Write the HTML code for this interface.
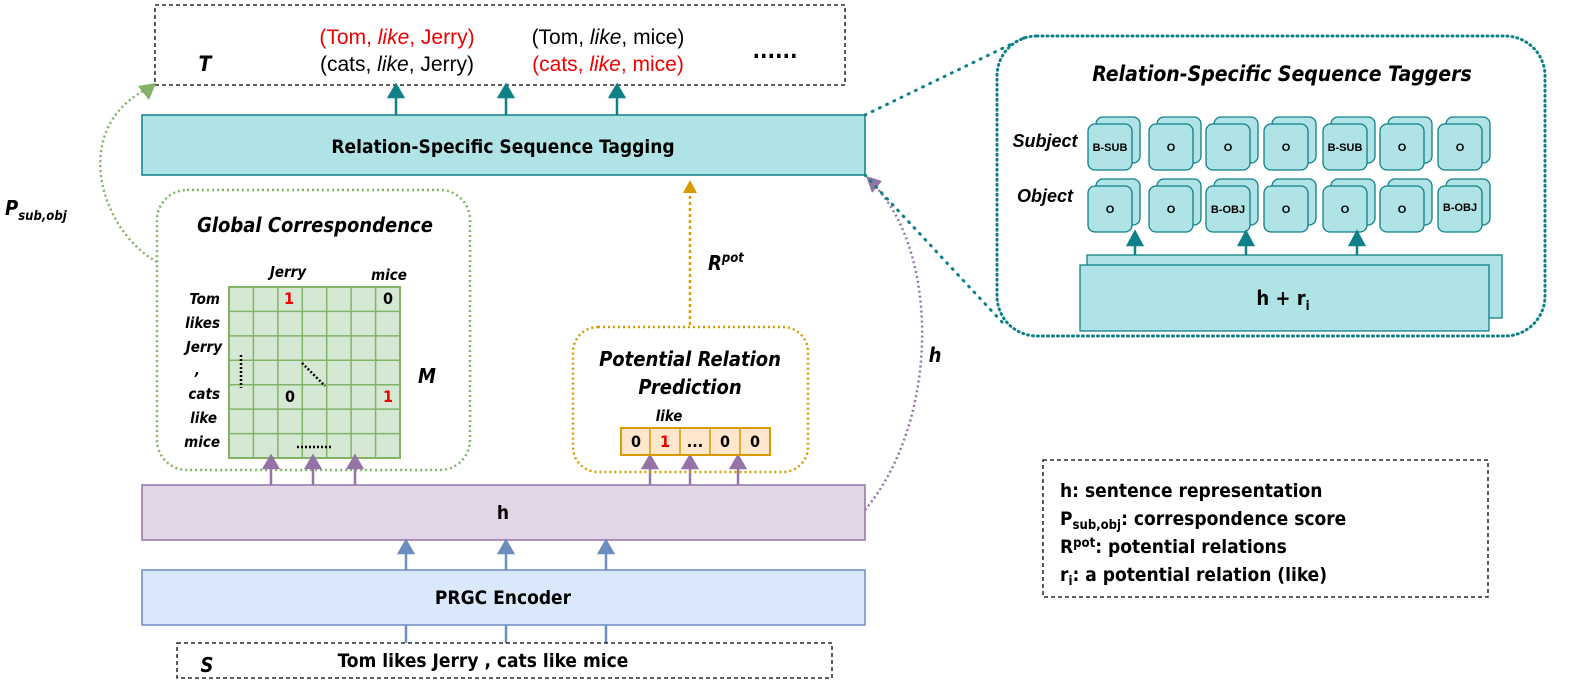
<!DOCTYPE html>
<html><head><meta charset="utf-8"><style>
body{margin:0;background:#fff}
svg text{font-family:"DejaVu Sans Condensed","DejaVu Sans",sans-serif}
.b{font-weight:bold}
.i{font-style:italic;font-weight:bold}
.l{font-family:"Liberation Sans",sans-serif!important}
</style></head><body>
<svg width="1578" height="686" viewBox="0 0 1578 686" xmlns="http://www.w3.org/2000/svg">
<!-- T box -->
<rect x="155" y="5" width="690" height="80" fill="none" stroke="#000" stroke-width="1.3" stroke-dasharray="4,3"/>
<text x="205" y="71" class="i" font-size="21" text-anchor="middle">T</text>
<g font-size="21" text-anchor="middle">
<text x="397" y="44" fill="#e00" class="l">(Tom, <tspan font-style="italic">like</tspan>, Jerry)</text>
<text x="397" y="71" class="l">(cats, <tspan font-style="italic">like</tspan>, Jerry)</text>
<text x="608" y="44" class="l">(Tom, <tspan font-style="italic">like</tspan>, mice)</text>
<text x="608" y="71" fill="#e00" class="l">(cats, <tspan font-style="italic">like</tspan>, mice)</text>
</g>
<text x="775" y="58" font-size="22" text-anchor="middle" class="b">......</text>
<!-- teal arrows -->
<g stroke="#0e8088" stroke-width="2.5" fill="#0e8088">
<line x1="396" y1="115" x2="396" y2="95"/><path d="M389,97L396,85L403,97z"/>
<line x1="506" y1="115" x2="506" y2="95"/><path d="M499,97L506,85L513,97z"/>
<line x1="617" y1="115" x2="617" y2="95"/><path d="M610,97L617,85L624,97z"/>
</g>
<!-- RSST -->
<rect x="142" y="115" width="723" height="60" fill="#b0e3e6" stroke="#0e8088" stroke-width="1.5"/>
<text x="503" y="153" font-size="19" class="b" text-anchor="middle">Relation-Specific Sequence Tagging</text>
<!-- green arc -->
<path d="M157,262 C100,230 70,130 145,90" fill="none" stroke="#82b366" stroke-width="2.5" stroke-dasharray="2,3"/>
<path d="M138,86L156,83L149,100z" fill="#82b366"/>
<text x="5" y="215" class="i" font-size="20">P<tspan font-size="13" dy="5">sub,obj</tspan></text>
<!-- Global correspondence -->
<rect x="157" y="190" width="313" height="280" rx="30" fill="none" stroke="#82b366" stroke-width="2.5" stroke-dasharray="2,3"/>
<text x="315" y="232" class="i" font-size="20" text-anchor="middle">Global Correspondence</text>
<rect x="229" y="287" width="171" height="171" fill="#d5e8d4" stroke="#82b366" stroke-width="2"/>
<g stroke="#82b366" stroke-width="1.5">
<line x1="253.4" y1="287" x2="253.4" y2="458"/><line x1="277.9" y1="287" x2="277.9" y2="458"/><line x1="302.3" y1="287" x2="302.3" y2="458"/><line x1="326.7" y1="287" x2="326.7" y2="458"/><line x1="351.1" y1="287" x2="351.1" y2="458"/><line x1="375.6" y1="287" x2="375.6" y2="458"/>
<line x1="229" y1="311.4" x2="400" y2="311.4"/><line x1="229" y1="335.9" x2="400" y2="335.9"/><line x1="229" y1="360.3" x2="400" y2="360.3"/><line x1="229" y1="384.7" x2="400" y2="384.7"/><line x1="229" y1="409.1" x2="400" y2="409.1"/><line x1="229" y1="433.6" x2="400" y2="433.6"/>
</g>
<g class="i" font-size="15" text-anchor="end">
<text x="220" y="304">Tom</text><text x="220" y="328">likes</text><text x="222" y="352">Jerry</text><text x="200" y="375">,</text><text x="220" y="399">cats</text><text x="217" y="423">like</text><text x="220" y="447">mice</text>
</g>
<text x="288" y="277" class="i" font-size="15" text-anchor="middle">Jerry</text>
<text x="389" y="280" class="i" font-size="15" text-anchor="middle">mice</text>
<g class="b" font-size="16" text-anchor="middle">
<text x="289" y="304" fill="#e00">1</text><text x="388" y="304">0</text>
<text x="290" y="402">0</text><text x="388" y="402" fill="#e00">1</text>
</g>
<text x="427" y="383" class="i" font-size="20" text-anchor="middle">M</text>
<g stroke="#000" stroke-width="2.5" stroke-dasharray="2,2">
<line x1="241" y1="355" x2="241" y2="388"/>
<line x1="302" y1="363" x2="325" y2="386"/>
<line x1="297" y1="447" x2="332" y2="447"/>
</g>
<!-- purple arrows -->
<g stroke="#9673a6" stroke-width="2.5" fill="#9673a6">
<line x1="271" y1="485" x2="271" y2="465"/><path d="M264,468L271,456L278,468z"/>
<line x1="313" y1="485" x2="313" y2="465"/><path d="M306,468L313,456L320,468z"/>
<line x1="355" y1="485" x2="355" y2="465"/><path d="M348,468L355,456L362,468z"/>
<line x1="650" y1="485" x2="650" y2="465"/><path d="M643,468L650,456L657,468z"/>
<line x1="690" y1="485" x2="690" y2="465"/><path d="M683,468L690,456L697,468z"/>
<line x1="738" y1="485" x2="738" y2="465"/><path d="M731,468L738,456L745,468z"/>
</g>
<!-- PRP -->
<rect x="573" y="327" width="235" height="145" rx="25" fill="none" stroke="#d79b00" stroke-width="2.5" stroke-dasharray="2,3"/>
<text x="690" y="366" class="i" font-size="20" text-anchor="middle">Potential Relation</text>
<text x="690" y="394" class="i" font-size="20" text-anchor="middle">Prediction</text>
<text x="669" y="421" class="i" font-size="15" text-anchor="middle">like</text>
<rect x="621" y="428" width="149" height="27" fill="#ffe6cc" stroke="#d79b00" stroke-width="2"/>
<g stroke="#d79b00" stroke-width="1.5"><line x1="650" y1="428" x2="650" y2="455"/><line x1="680" y1="428" x2="680" y2="455"/><line x1="710" y1="428" x2="710" y2="455"/><line x1="740" y1="428" x2="740" y2="455"/></g>
<g class="b" font-size="16" text-anchor="middle"><text x="636" y="447">0</text><text x="665" y="447" fill="#e00">1</text><text x="695" y="447">...</text><text x="725" y="447">0</text><text x="755" y="447">0</text></g>
<!-- orange arrow -->
<line x1="690" y1="325" x2="690" y2="190" stroke="#d79b00" stroke-width="2.5" stroke-dasharray="3,3"/>
<path d="M683,193L690,180L697,193z" fill="#d79b00"/>
<text x="708" y="270" class="i" font-size="20">R<tspan font-size="13" dy="-8">pot</tspan></text>
<!-- h box -->
<rect x="142" y="485" width="723" height="55" fill="#e1d5e7" stroke="#9673a6" stroke-width="1.5"/>
<text x="503" y="519" class="b" font-size="19" text-anchor="middle">h</text>
<!-- purple h arc -->
<path d="M865,510 C940,420 940,250 872,183" fill="none" stroke="#9673a6" stroke-width="2.5" stroke-dasharray="2,3"/>
<path d="M866,176L882,181L872,193z" fill="#9673a6"/>
<text x="935" y="362" class="i" font-size="20" text-anchor="middle">h</text>
<!-- blue arrows -->
<g stroke="#6c8ebf" stroke-width="2.5" fill="#6c8ebf">
<line x1="406" y1="570" x2="406" y2="550"/><path d="M399,553L406,541L413,553z"/>
<line x1="506" y1="570" x2="506" y2="550"/><path d="M499,553L506,541L513,553z"/>
<line x1="606" y1="570" x2="606" y2="550"/><path d="M599,553L606,541L613,553z"/>
<line x1="406" y1="625" x2="406" y2="643"/><line x1="506" y1="625" x2="506" y2="643"/><line x1="606" y1="625" x2="606" y2="643"/>
</g>
<rect x="142" y="570" width="723" height="55" fill="#dae8fc" stroke="#6c8ebf" stroke-width="1.5"/>
<text x="503" y="604" class="b" font-size="19" text-anchor="middle">PRGC Encoder</text>
<rect x="177" y="643" width="655" height="35" fill="none" stroke="#000" stroke-width="1.3" stroke-dasharray="4,3"/>
<text x="207" y="672" class="i" font-size="20" text-anchor="middle">S</text>
<text x="483" y="667" class="b" font-size="19" text-anchor="middle">Tom likes Jerry , cats like mice</text>
<!-- teal dotted connectors -->
<line x1="865" y1="115" x2="1030" y2="35" stroke="#0e8088" stroke-width="3" stroke-dasharray="1,7" stroke-linecap="round"/>
<line x1="865" y1="175" x2="1002" y2="322" stroke="#0e8088" stroke-width="3" stroke-dasharray="1,7" stroke-linecap="round"/>
<!-- Right panel -->
<rect x="997" y="36" width="548" height="300" rx="40" fill="none" stroke="#0e8088" stroke-width="3" stroke-dasharray="1,4" stroke-linecap="round"/>
<text x="1282" y="81" class="i" font-size="21" text-anchor="middle">Relation-Specific Sequence Taggers</text>
<text x="1045" y="147" class="i l" font-size="18" text-anchor="middle">Subject</text>
<text x="1045" y="202" class="i l" font-size="18" text-anchor="middle">Object</text>
<g fill="#b0e3e6" stroke="#0e8088" stroke-width="1.3">
<g id="s">
<rect x="1096" y="117" width="44" height="46" rx="7"/><rect x="1088" y="124" width="44" height="46" rx="7"/>
<rect x="1096" y="179" width="44" height="46" rx="7"/><rect x="1088" y="186" width="44" height="46" rx="7"/>
</g>
<use href="#s" x="61"/><use href="#s" x="118"/><use href="#s" x="176"/><use href="#s" x="235"/><use href="#s" x="292"/><use href="#s" x="350"/>
</g>
<g font-weight="bold" font-size="11" text-anchor="middle">
<text x="1110" y="151" class="l">B-SUB</text><text x="1171" y="151" class="l">O</text><text x="1228" y="151" class="l">O</text><text x="1286" y="151" class="l">O</text><text x="1345" y="151" class="l">B-SUB</text><text x="1402" y="151" class="l">O</text><text x="1460" y="151" class="l">O</text>
<text x="1110" y="213" class="l">O</text><text x="1171" y="213" class="l">O</text><text x="1228" y="213" class="l">B-OBJ</text><text x="1286" y="213" class="l">O</text><text x="1345" y="213" class="l">O</text><text x="1402" y="213" class="l">O</text><text x="1460" y="211" class="l">B-OBJ</text>
</g>
<g stroke="#0e8088" stroke-width="2.5" fill="#0e8088">
<line x1="1135" y1="262" x2="1135" y2="242"/><path d="M1128,245L1135,232L1142,245z"/>
<line x1="1246" y1="262" x2="1246" y2="242"/><path d="M1239,245L1246,232L1253,245z"/>
<line x1="1357" y1="262" x2="1357" y2="242"/><path d="M1350,245L1357,232L1364,245z"/>
</g>
<rect x="1087" y="255" width="415" height="63" fill="#b0e3e6" stroke="#0e8088" stroke-width="1.3"/>
<rect x="1080" y="265" width="409" height="66" fill="#b0e3e6" stroke="#0e8088" stroke-width="1.3"/>
<text x="1283" y="305" class="b" font-size="20" text-anchor="middle">h + r<tspan font-size="13" dy="5">i</tspan></text>
<!-- legend -->
<rect x="1043" y="460" width="445" height="137" fill="none" stroke="#000" stroke-width="1.3" stroke-dasharray="4,3"/>
<g font-size="19" class="b">
<text x="1060" y="497">h: sentence representation</text>
<text x="1060" y="525">P<tspan font-size="13" dy="4">sub,obj</tspan><tspan dy="-4">: correspondence score</tspan></text>
<text x="1060" y="553">R<tspan font-size="13" dy="-6">pot</tspan><tspan dy="6">: potential relations</tspan></text>
<text x="1060" y="581">r<tspan font-size="13" dy="4">i</tspan><tspan dy="-4">: a potential relation (like)</tspan></text>
</g>
</svg>
</body></html>
